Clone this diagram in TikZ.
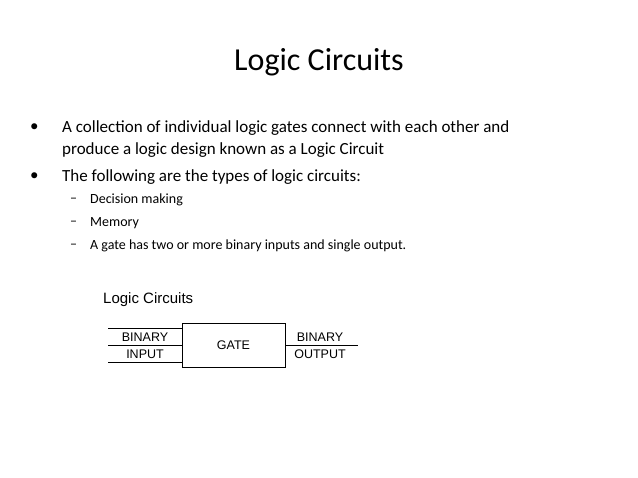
\documentclass[tikz,border=0pt]{standalone}
\usepackage{fontspec}
\setmainfont{Carlito}
\newfontfamily\arialf{Liberation Sans}
\begin{document}
\begin{tikzpicture}[x=1pt,y=-1pt,
  txt/.style={anchor=west,inner sep=0pt,font=\fontsize{17}{20}\selectfont},
  sub/.style={anchor=west,inner sep=0pt,font=\fontsize{14}{17}\selectfont},
  lab/.style={inner sep=0pt,font=\arialf\fontsize{12.5}{14}\selectfont},
  wire/.style={line width=0.9pt}]
\useasboundingbox (0,0) rectangle (638,478);
\node[inner sep=0pt,font=\fontsize{32}{38}\selectfont] (title) at (319,62) {Logic Circuits};
\node[txt] (b1) at (30,128) {•};
\node[txt] (t1) at (62,128) {A collection of individual logic gates connect with each other and};
\node[txt] (t1b) at (62,150) {produce a logic design known as a Logic Circuit};
\node[txt] (b2) at (30,177) {•};
\node[txt] (t2) at (62,177) {The following are the types of logic circuits:};
\node[sub] (d1) at (70,200) {–};
\node[sub] (s1) at (90,200) {Decision making};
\node[sub] (d2) at (70,223) {–};
\node[sub] (s2) at (90,223) {Memory};
\node[sub] (d3) at (70,246) {–};
\node[sub] (s3) at (90,246) {A gate has two or more binary inputs and single output.};
\node[lab,anchor=west,font=\arialf\fontsize{15}{17}\selectfont] (lc) at (103,300) {Logic Circuits};
\node[draw,line width=0.9pt,minimum width=103pt,minimum height=44pt,inner sep=0pt,font=\arialf\fontsize{12.5}{14}\selectfont] (gate) at (233.5,345) {GATE};
\coordinate (i1) at (108,328);
\coordinate (i2) at (108,345);
\coordinate (i3) at (108,362);
\coordinate (o1) at (358,345);
\draw[wire] (i1) -- (i1 -| gate.west);
\draw[wire] (i2) -- (gate.west);
\draw[wire] (i3) -- (i3 -| gate.west);
\draw[wire] (gate.east) -- (o1);
\node[lab] (bi) at (145,337) {BINARY};
\node[lab] (in) at (145,354) {INPUT};
\node[lab] (bo) at (320,337) {BINARY};
\node[lab] (out) at (320,354) {OUTPUT};
\end{tikzpicture}
\end{document}
